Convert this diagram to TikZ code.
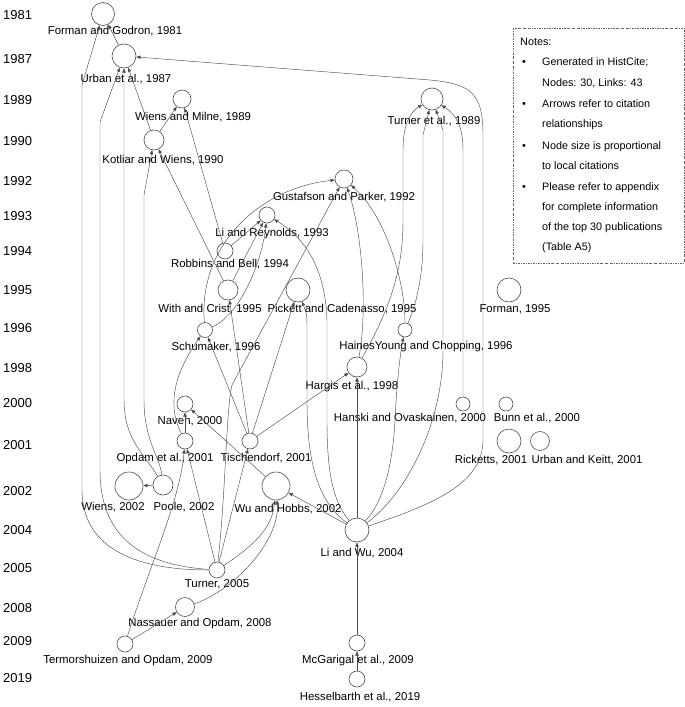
\documentclass[tikz,border=0pt]{standalone}
\usepackage{fontspec}
\setmainfont{Liberation Sans}
\usetikzlibrary{arrows.meta}
\begin{document}
\begin{tikzpicture}[x=1pt,y=-1pt,
  pub/.style={circle, draw=black!70, line width=0.6pt, inner sep=0pt, minimum size=#1},
  lab/.style={font=\fontsize{11.4}{13}\selectfont, inner sep=0pt, anchor=mid},
  yr/.style={font=\fontsize{13}{15}\selectfont, inner sep=0pt, anchor=mid west},
  note/.style={font=\fontsize{10.8}{12}\selectfont, inner sep=0pt, anchor=mid west},
  cite/.style={draw=black!70, line width=0.45pt, -{Triangle[length=4.2pt,width=3.4pt]}},
  box/.style={draw=black!60, line width=0.5pt, dash pattern=on 2pt off 1.2pt on 0.5pt off 1.2pt}
]
\useasboundingbox (0,0) rectangle (685,707);
% years
\foreach \yy/\y in {1981/17,1987/61,1989/102,1990/143,1992/183,1993/218,1994/253,1995/292,1996/330,1998/370,2000/405,2001/447,2002/493,2004/532,2005/570,2008/610,2009/643,2019/680}
  \node[yr] (y\yy) at (3,\y) {\yy};
% publications
\node[pub=23] (FG81) at (103,14) {};
\node[pub=24] (U87) at (124,56) {};
\node[pub=18] (WM89) at (182,99) {};
\node[pub=20] (KW90) at (154,140) {};
\node[pub=22] (TU89) at (432,99) {};
\node[pub=18] (GP92) at (344,179) {};
\node[pub=16] (LR93) at (267,215) {};
\node[pub=16] (RB94) at (225,251) {};
\node[pub=20] (WC95) at (228,290) {};
\node[pub=24] (PC95) at (298,290) {};
\node[pub=24] (F95) at (509,290) {};
\node[pub=15] (S96) at (205,330) {};
\node[pub=14] (HYC96) at (405,330) {};
\node[pub=20] (H98) at (357,367) {};
\node[pub=14] (HO00) at (463,404) {};
\node[pub=14] (B00) at (506,404) {};
\node[pub=16] (N00) at (185,404) {};
\node[pub=16] (O01) at (185,441) {};
\node[pub=16] (T01) at (250,441) {};
\node[pub=24] (R01) at (509,441) {};
\node[pub=19] (UK01) at (540,441) {};
\node[pub=28] (W02) at (129,486) {};
\node[pub=20] (P02) at (163,485) {};
\node[pub=28] (WH02) at (276,486) {};
\node[pub=24] (LW04) at (357,530) {};
\node[pub=16] (T05) at (217,570) {};
\node[pub=19] (NO08) at (185,607) {};
\node[pub=16] (TO09) at (125,644) {};
\node[pub=16] (MG09) at (357,643) {};
\node[pub=16] (HB19) at (357,679) {};
% labels
\node[lab] (lFG81) at (115,32) {Forman and Godron, 1981};
\node[lab] (lU87) at (126,80) {Urban et al., 1987};
\node[lab] (lWM89) at (193,118) {Wiens and Milne, 1989};
\node[lab] (lKW90) at (163,161) {Kotliar and Wiens, 1990};
\node[lab] (lTU89) at (434,122) {Turner et al., 1989};
\node[lab] (lGP92) at (344,198) {Gustafson and Parker, 1992};
\node[lab] (lLR93) at (272,234) {Li and Reynolds, 1993};
\node[lab] (lRB94) at (230,265) {Robbins and Bell, 1994};
\node[lab] (lWC95) at (210,310) {With and Crist, 1995};
\node[lab] (lPC95) at (342,310) {Pickett and Cadenasso, 1995};
\node[lab] (lF95) at (515,310) {Forman, 1995};
\node[lab] (lS96) at (216,348) {Schumaker, 1996};
\node[lab] (lHYC96) at (426,347) {HainesYoung and Chopping, 1996};
\node[lab] (lH98) at (352,387) {Hargis et al., 1998};
\node[lab] (lHO00) at (410,419) {Hanski and Ovaskainen, 2000};
\node[lab] (lB00) at (537,419) {Bunn et al., 2000};
\node[lab] (lN00) at (190,422) {Naveh, 2000};
\node[lab] (lO01) at (165,459) {Opdam et al., 2001};
\node[lab] (lT01) at (266,459) {Tischendorf, 2001};
\node[lab] (lR01) at (491,461) {Ricketts, 2001};
\node[lab] (lUK01) at (587,461) {Urban and Keitt, 2001};
\node[lab] (lW02) at (113,508) {Wiens, 2002};
\node[lab] (lP02) at (184,508) {Poole, 2002};
\node[lab] (lWH02) at (288,510) {Wu and Hobbs, 2002};
\node[lab] (lLW04) at (362,554) {Li and Wu, 2004};
\node[lab] (lT05) at (217,585) {Turner, 2005};
\node[lab] (lNO08) at (200,624) {Nassauer and Opdam, 2008};
\node[lab] (lTO09) at (128,661) {Termorshuizen and Opdam, 2009};
\node[lab] (lMG09) at (358,661) {McGarigal et al., 2009};
\node[lab] (lHB19) at (360,698) {Hesselbarth et al., 2019};
% citation links
\draw[cite] (U87) -- (FG81);
\draw[cite] (T05) .. controls (130,570) and (82,545) .. (82,490) -- (82,85) -- (FG81);
\draw[cite] (T05) .. controls (145,565) and (100,540) .. (100,470) -- (100,122) -- (U87);
\draw[cite] (P02) .. controls (145,455) and (124,440) .. (124,400) -- (U87);
\draw[cite] (KW90) -- (U87);
\draw[cite] (LW04) .. controls (430,505) and (483,485) .. (483,440) -- (483,135) .. controls (483,92) and (470,84) .. (430,80) -- (U87);
\draw[cite] (KW90) -- (WM89);
\draw[cite] (RB94) -- (WM89);
\draw[cite] (P02) .. controls (160,458) and (144,440) .. (144,400) -- (144,195) -- (KW90);
\draw[cite] (WC95) -- (KW90);
\draw[cite] (RB94) -- (LR93);
\draw[cite] (WC95) -- (LR93);
\draw[cite] (S96) .. controls (240,315) and (262,262) .. (LR93);
\draw[cite] (LW04) .. controls (332,500) and (327,470) .. (327,420) -- (327,320) .. controls (325,262) and (300,235) .. (LR93);
\draw[cite] (S96) .. controls (198,245) and (260,188) .. (GP92);
\draw[cite] (H98) .. controls (368,310) and (362,230) .. (GP92);
\draw[cite] (HYC96) .. controls (405,280) and (385,215) .. (GP92);
\draw[cite] (T05) .. controls (226,490) and (226,410) .. (232,385) -- (GP92);
\draw[cite] (H98) .. controls (395,300) and (403,262) .. (403,220) -- (403,150) .. controls (403,125) and (410,112) .. (TU89);
\draw[cite] (HYC96) .. controls (418,300) and (423,272) .. (423,240) -- (423,135) -- (TU89);
\draw[cite] (LW04) .. controls (405,495) and (443,425) .. (443,350) -- (443,130) -- (TU89);
\draw[cite] (HO00) -- (463,150) .. controls (463,125) and (455,114) .. (TU89);
\draw[cite] (T01) -- (S96);
\draw[cite] (O01) .. controls (172,415) and (166,385) .. (S96);
\draw[cite] (O01) -- (N00);
\draw[cite] (WH02) -- (N00);
\draw[cite] (T05) -- (O01);
\draw[cite] (TO09) .. controls (150,565) and (180,500) .. (O01);
\draw[cite] (T05) -- (T01);
\draw[cite] (T01) -- (H98);
\draw[cite] (T01) -- (WC95);
\draw[cite] (T01) -- (PC95);
\draw[cite] (T05) .. controls (250,548) and (272,530) .. (WH02);
\draw[cite] (NO08) .. controls (235,590) and (280,540) .. (WH02);
\draw[cite] (TO09) -- (NO08);
\draw[cite] (P02) -- (W02);
\draw[cite] (LW04) -- (WH02);
\draw[cite] (MG09) -- (LW04);
\draw[cite] (HB19) -- (MG09);
\draw[cite] (LW04) -- (H98);
\draw[cite] (LW04) .. controls (315,500) and (307,455) .. (307,400) -- (307,330) .. controls (307,315) .. (PC95);
\draw[cite] (LW04) .. controls (385,500) and (393,460) .. (395,420) .. controls (397,380) and (400,355) .. (HYC96);
% notes
\draw[box] (513,28) rectangle (684,263);
\node[note] (nt) at (520,43) {Notes:};
\foreach \yy/\t [count=\i] in {63/Generated in HistCite;,84/{Nodes: 30, Links: 43},105/Arrows refer to citation,125/relationships,147/Node size is proportional,167/to local citations,188/Please refer to appendix,208/for complete information,228/of the top 30 publications,248/(Table A5)}
  \node[note] (n\i) at (542,\yy) {\t};
\foreach \yy [count=\i] in {63,105,147,188}
  \node[note] (b\i) at (522,\yy) {\textbullet};
\end{tikzpicture}
\end{document}
